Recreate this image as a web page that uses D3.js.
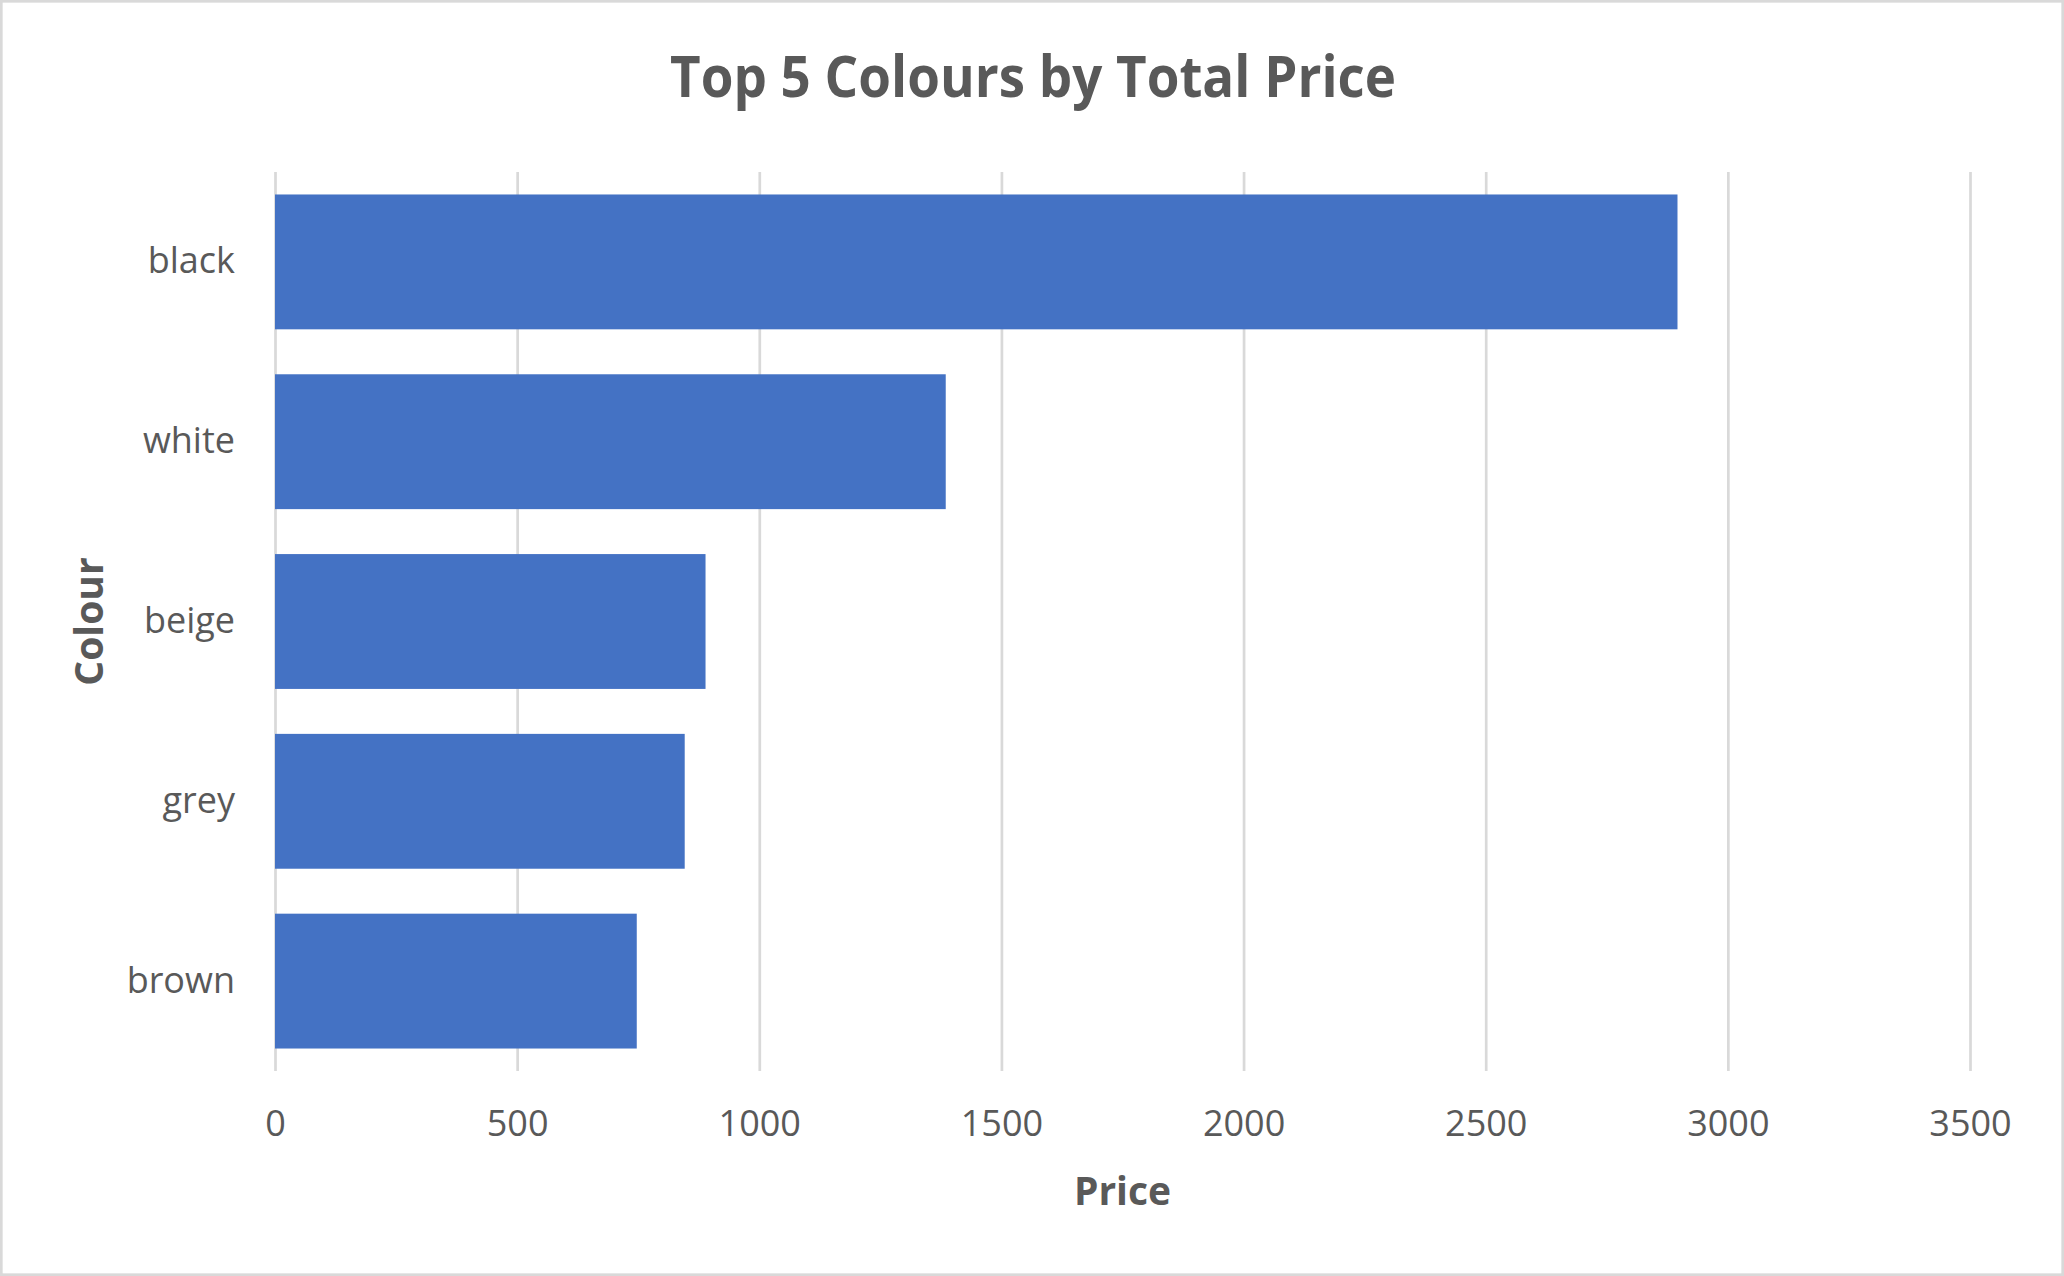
<!DOCTYPE html>
<html>
<head>
<meta charset="utf-8">
<script src="https://cdn.jsdelivr.net/npm/d3@7"></script>
<style>
  body { margin: 0; background: #fff; }
  svg { display: block; font-family: "Open Sans", sans-serif; }
  .tick text { fill: #595959; }
</style>
</head>
<body>
<svg id="chart"></svg>
<script>
// chart data
const colours = ['black', 'white', 'beige', 'grey', 'brown'];
const totalPrice = [2896, 1385, 889, 846, 747];
const priceTicks = [0, 500, 1000, 1500, 2000, 2500, 3000, 3500];

const width = 2064, height = 1276;
const plot = {left: 275, right: 1970, top: 172, bottom: 1071};
const font = '"Open Sans", sans-serif';

const svg = d3.select('#chart')
    .attr('width', width)
    .attr('height', height);

// outer frame
svg.append('rect')
    .attr('x', 1.3).attr('y', 1.3)
    .attr('width', width - 2.6).attr('height', height - 2.6)
    .attr('fill', '#fff')
    .attr('stroke', '#d9d9d9')
    .attr('stroke-width', 2.7);

const x = d3.scaleLinear()
    .domain([0, 3500])
    .range([plot.left, plot.right]);

const y = d3.scaleBand()
    .domain(colours)
    .range([plot.top, plot.bottom])
    .paddingInner(0.25)
    .paddingOuter(0.125);

// gridlines + x tick labels
const xAxis = svg.append('g')
    .attr('transform', `translate(0,${plot.bottom})`)
    .call(d3.axisBottom(x)
        .tickValues(priceTicks)
        .tickSizeInner(-(plot.bottom - plot.top))
        .tickSizeOuter(0)
        .tickFormat(d3.format('d')))
    .attr('font-family', font);
xAxis.select('.domain').remove();
xAxis.selectAll('.tick line')
    .attr('stroke', '#d9d9d9')
    .attr('stroke-width', 2.7);
xAxis.selectAll('.tick text')
    .attr('y', 65)
    .attr('dy', null)
    .attr('font-size', 36);

// bars
const rows = colours.map((c, i) => ({colour: c, price: totalPrice[i]}));
svg.append('g')
    .selectAll('rect')
    .data(rows)
    .join('rect')
    .attr('x', x(0))
    .attr('y', d => y(d.colour))
    .attr('width', d => x(d.price) - x(0))
    .attr('height', y.bandwidth())
    .attr('fill', '#4472c4');

// category labels
const yAxis = svg.append('g')
    .attr('transform', `translate(${plot.left},0)`)
    .call(d3.axisLeft(y).tickSize(0).tickPadding(40))
    .attr('font-family', font);
yAxis.select('.domain').remove();
yAxis.selectAll('.tick text')
    .attr('font-size', 36)
    .attr('dy', '0.32em');

// titles
svg.append('text')
    .attr('x', 1033)
    .attr('y', 97)
    .attr('text-anchor', 'middle')
    .attr('font-size', 57)
    .attr('font-weight', 700)
    .attr('fill', '#595959')
    .attr('textLength', 726)
    .attr('lengthAdjust', 'spacingAndGlyphs')
    .text('Top 5 Colours by Total Price');

svg.append('text')
    .attr('x', (plot.left + plot.right) / 2)
    .attr('y', 1205)
    .attr('text-anchor', 'middle')
    .attr('font-size', 39)
    .attr('font-weight', 700)
    .attr('fill', '#595959')
    .text('Price');

svg.append('text')
    .attr('transform', `translate(103,${(plot.top + plot.bottom) / 2}) rotate(-90)`)
    .attr('text-anchor', 'middle')
    .attr('font-size', 39)
    .attr('font-weight', 700)
    .attr('fill', '#595959')
    .text('Colour');
</script>
</body>
</html>
